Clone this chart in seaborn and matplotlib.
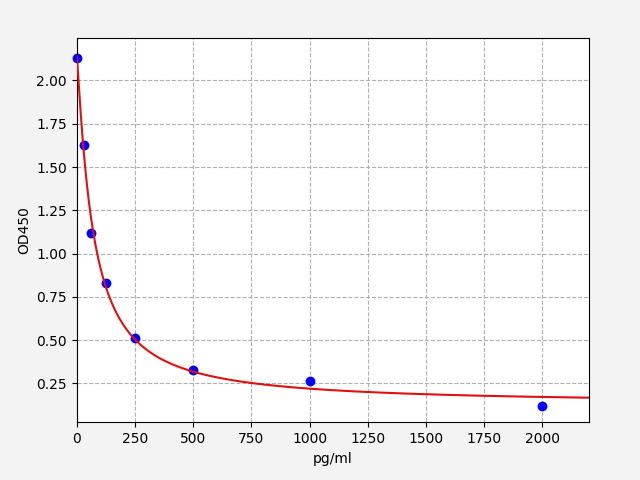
import numpy as np
import pandas as pd
import seaborn as sns
import matplotlib
matplotlib.use("Agg")
import matplotlib.pyplot as plt

# standard points
conc = [0, 31.25, 62.5, 125, 250, 500, 1000, 2000]
od450 = [2.128, 1.625, 1.118, 0.830, 0.513, 0.325, 0.262, 0.121]

data = pd.DataFrame({"pg/ml": conc, "OD450": od450})


# 4 parameter logistic fit: y = d + (a - d) / (1 + (x / c) ** b)
# a and d are linear once b and c are fixed, so search over b, c
def fit_4pl(x, y):
    x = np.asarray(x, dtype=float)
    y = np.asarray(y, dtype=float)
    best = None
    for b in np.linspace(0.3, 3.0, 271):
        for c in np.logspace(0.5, 3.5, 301):
            g = 1.0 / (1.0 + (x / c) ** b)
            A = np.column_stack([g, 1 - g])
            coef, *_ = np.linalg.lstsq(A, y, rcond=None)
            err = np.sum((A @ coef - y) ** 2)
            if best is None or err < best[0]:
                best = (err, coef[0], b, c, coef[1])
    return best[1:]


a, b, c, d = fit_4pl(conc, od450)
xs = np.linspace(0, 2200, 500)
curve = pd.DataFrame({"pg/ml": xs, "OD450": d + (a - d) / (1 + (xs / c) ** b)})

fig, ax = plt.subplots(figsize=(6.4, 4.8), dpi=100)
fig.patch.set_facecolor("#f3f3f3")
fig.subplots_adjust(left=0.12, right=0.92, top=0.92, bottom=0.12)

# points first, the fitted curve sits on top of them
sns.scatterplot(data=data, x="pg/ml", y="OD450", color="#0000ff", s=50,
                linewidth=0, ax=ax, zorder=2, clip_on=False)
sns.lineplot(data=curve, x="pg/ml", y="OD450", color="#e01010", linewidth=1.5, ax=ax, zorder=3)

ax.set_xlim(0, 2200)
ax.set_ylim(0.025, 2.243)
ax.set_yticks([0.25, 0.5, 0.75, 1.0, 1.25, 1.5, 1.75, 2.0])
ax.grid(True, linestyle="--", color="#b0b0b0", linewidth=0.8)
ax.set_axisbelow(True)
ax.set_xlabel("pg/ml")
ax.set_ylabel("OD450")

plt.savefig("out.png", dpi=100, facecolor=fig.get_facecolor())
